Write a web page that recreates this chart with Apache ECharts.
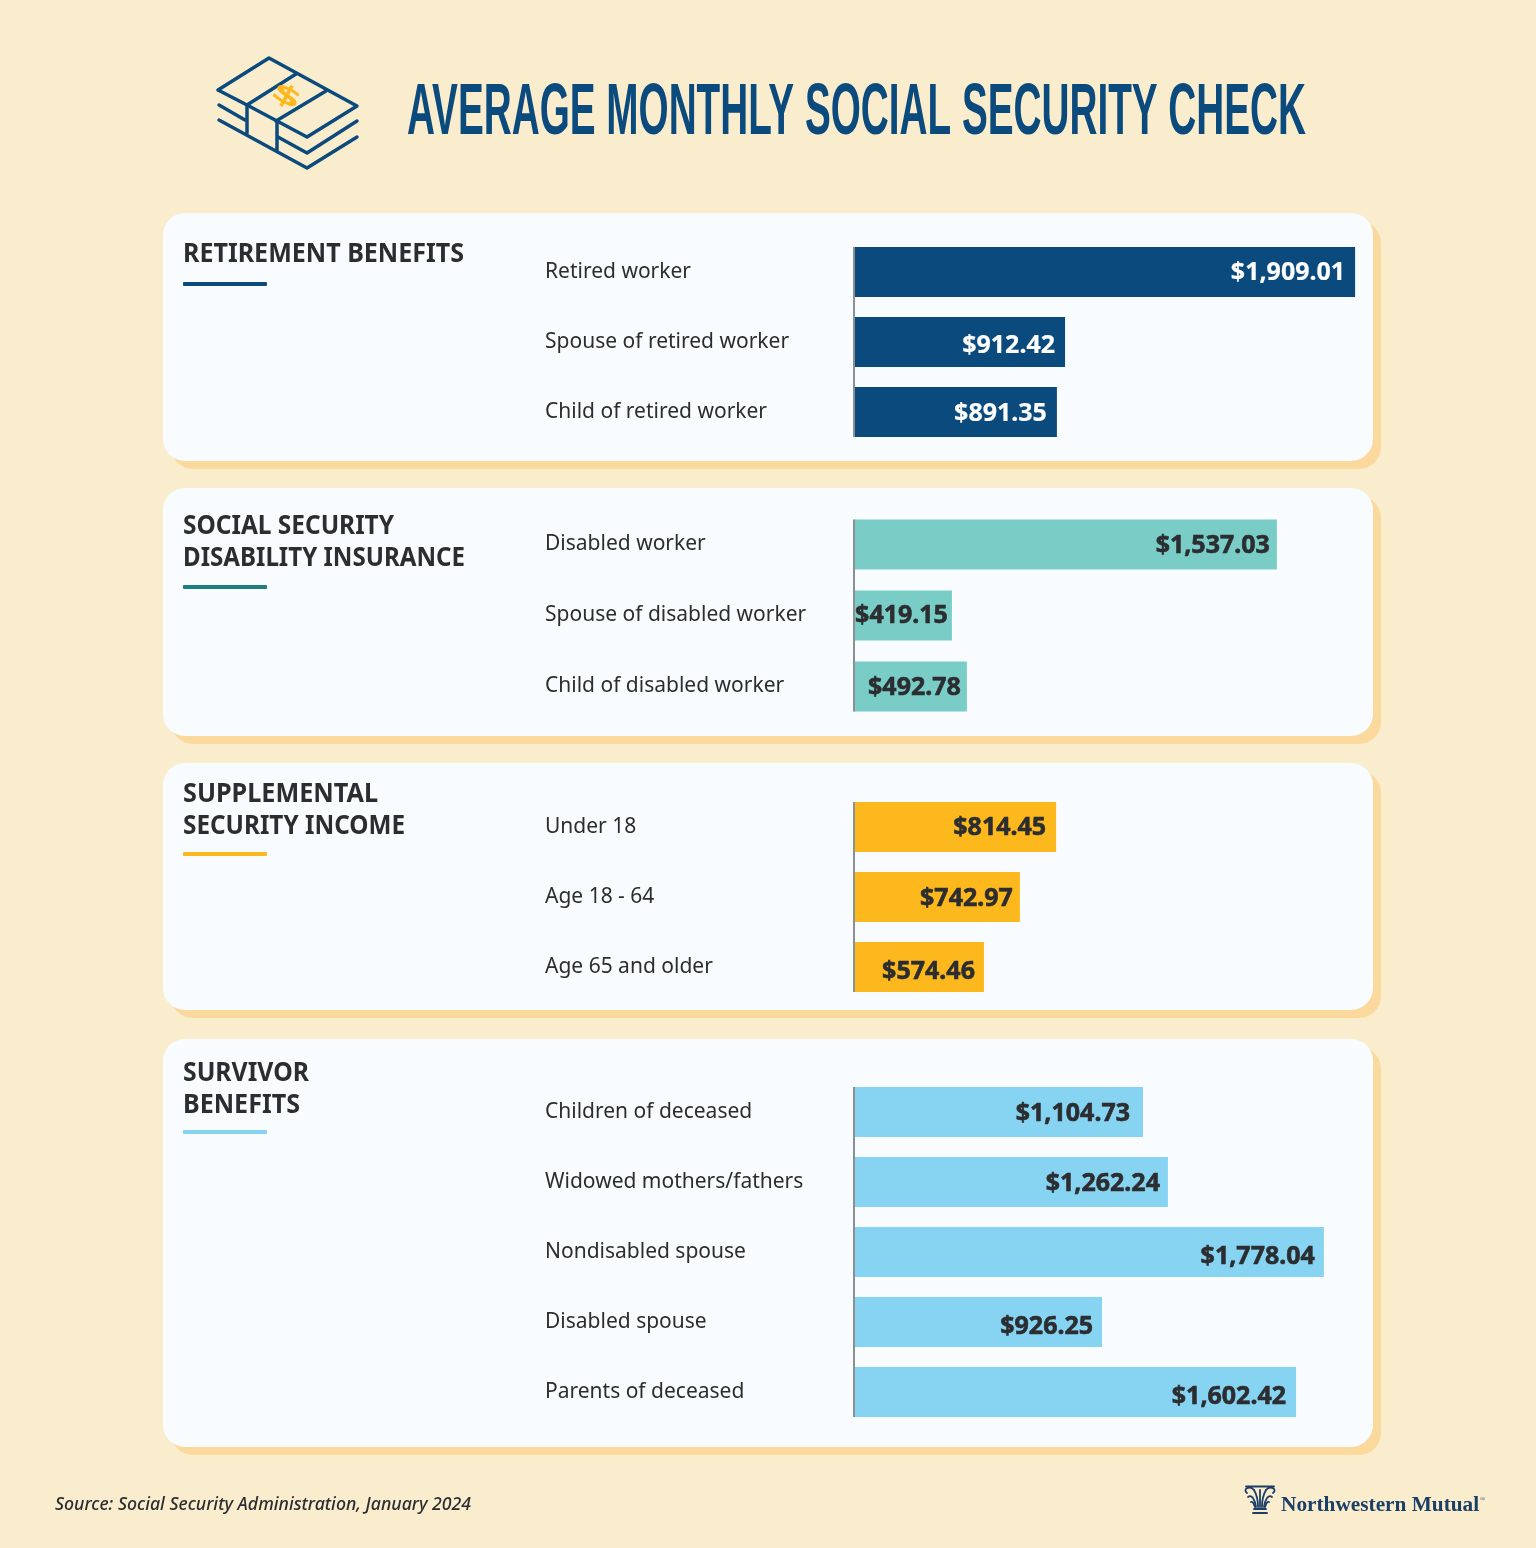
<!DOCTYPE html>
<html><head><meta charset="utf-8">
<style>html,body{margin:0;padding:0;background:#faedcd}#c{width:1536px;height:1548px}</style>
<script src="https://cdn.jsdelivr.net/npm/echarts@6/dist/echarts.min.js"></script>
</head><body><div id="c"></div>
<script>
// Printed dollar amounts, as labelled on the picture
const retirementCategories = ['Retired worker','Spouse of retired worker','Child of retired worker'];
const retirementPrinted = [1909.01,912.42,891.35];
const disabilityCategories = ['Disabled worker','Spouse of disabled worker','Child of disabled worker'];
const disabilityPrinted = [1537.03,419.15,492.78];
const ssiCategories = ['Under 18','Age 18 - 64','Age 65 and older'];
const ssiPrinted = [814.45,742.97,574.46];
const survivorCategories = ['Children of deceased','Widowed mothers/fathers','Nondisabled spouse','Disabled spouse','Parents of deceased'];
const survivorPrinted = [1104.73,1262.24,1778.04,926.25,1602.42];
// The bars in the reference are not drawn to scale with their labels, so their
// lengths are read separately, in dollars on the scale set by the longest bar.
const retirementDrawn = [1909,804,773];
const disabilityDrawn = [1611,373,430];
const ssiDrawn = [770,632,495];
const survivorDrawn = [1101,1196,1790,945,1684];

const fmt = v => '$' + v.toLocaleString('en-US',{minimumFractionDigits:2,maximumFractionDigits:2});
const FONT = '"Noto Sans", sans-serif';
const INK = '#2b2d30';
const NAVY = '#0b4a7d';

// layout only: per-panel geometry and the hand placement of the value labels
const panels = [
 {cats:retirementCategories,printed:retirementPrinted,drawn:retirementDrawn,color:NAVY,labelColor:'#ffffff',accent:NAVY,
  card:[213,248],top:237,band:70,head:[['RETIREMENT BENEFITS',281]],headY:255,rule:284,
  inset:[10,10,10],dy:[1,4,2]},
 {cats:disabilityCategories,printed:disabilityPrinted,drawn:disabilityDrawn,color:'#79cdc6',labelColor:INK,accent:'#1f7f80',
  card:[488,248],top:509,band:71,head:[['SOCIAL SECURITY',211],['DISABILITY INSURANCE',282]],headY:527,rule:587,
  inset:[7,4,6],dy:[1,0,1]},
 {cats:ssiCategories,printed:ssiPrinted,drawn:ssiDrawn,color:'#fdb81e',labelColor:INK,accent:'#fdb81e',
  card:[763,247],top:792,band:70,head:[['SUPPLEMENTAL',195],['SECURITY INCOME',222]],headY:795,rule:854,
  inset:[10,7,9],dy:[1,2,5]},
 {cats:survivorCategories,printed:survivorPrinted,drawn:survivorDrawn,color:'#87d3f2',labelColor:INK,accent:'#87d3f2',
  card:[1039,408],top:1077,band:70,head:[['SURVIVOR',126],['BENEFITS',117]],headY:1074,rule:1132,
  inset:[13,8,9,9,10],dy:[2,2,5,5,5]}
];

const LEFT = 854, PX_PER_DOLLAR = 0.2625, AXIS_MAX = 2000;
const grid=[],xAxis=[],yAxis=[],series=[],g=[];
const mc=document.createElement('canvas').getContext('2d');
const fit=(text,font,w)=>{mc.font=font;return w/mc.measureText(text).width;};

panels.forEach(p=>{
  g.push({type:'rect',z:-10,shape:{x:171,y:p.card[0]+8,width:1210,height:p.card[1],r:22},style:{fill:'#fbd89b'}});
  g.push({type:'rect',z:-9,shape:{x:163,y:p.card[0],width:1210,height:p.card[1],r:22},style:{fill:'#f8fcff'}});
});

panels.forEach((p,i)=>{
  const h=p.band*p.cats.length;
  grid.push({left:LEFT,top:p.top,width:AXIS_MAX*PX_PER_DOLLAR,height:h});
  xAxis.push({gridIndex:i,type:'value',min:0,max:AXIS_MAX,show:false});
  yAxis.push({gridIndex:i,type:'category',inverse:true,data:p.cats,
    axisLine:{show:false},axisTick:{show:false},splitLine:{show:false},
    axisLabel:{align:'left',margin:309,color:INK,fontFamily:FONT,fontSize:21,lineHeight:26,padding:[2,0,0,0]}});
  const dark=p.labelColor===INK;
  series.push({type:'bar',xAxisIndex:i,yAxisIndex:i,barWidth:50,silent:true,
    data:p.drawn.map((v,k)=>({value:v,label:{formatter:fmt(p.printed[k]),distance:p.inset[k],offset:[0,p.dy[k]]}})),
    itemStyle:{color:p.color},
    label:{show:true,position:'insideRight',color:p.labelColor,fontFamily:FONT,fontWeight:700,fontSize:25,
      textBorderColor:p.labelColor,textBorderWidth:dark?0.6:0.2}});
  g.push({type:'rect',z:5,shape:{x:853,y:p.top+(p.band-50)/2,width:2,height:h-(p.band-50)},style:{fill:'#8b9094'}});
  p.head.forEach(([t,w],k)=>{
    const f='700 26px '+FONT;
    g.push({type:'text',z:5,x:183,y:p.headY+k*31.5,scaleX:fit(t,f,w),style:{text:t,fill:INK,font:f,textVerticalAlign:'middle'}});
  });
  g.push({type:'rect',z:5,shape:{x:183,y:p.rule-2,width:84,height:4,r:1},style:{fill:p.accent}});
});

// title squeezed to the condensed width of the original lettering
const TITLE='AVERAGE MONTHLY SOCIAL SECURITY CHECK', TITLE_FONT='700 73px "Liberation Sans", sans-serif';
g.push({type:'text',x:407,y:114,scaleX:fit(TITLE,TITLE_FONT,899),style:{text:TITLE,fill:NAVY,font:TITLE_FONT,textVerticalAlign:'middle'}});

// money icon
const iconLine={stroke:NAVY,lineWidth:3.5,fill:null,lineJoin:'round',lineCap:'round'};
[
 [[218,90],[269,58],[357,106],[307,137],[247,105],[218,90]],
 [[296,74],[247,105]],[[326,91],[276,121]],
 [[247,105],[247,133]],[[277,121],[277,150]],
 [[219,105],[245,120]],
 [[219,120],[307,168],[357,137]],
 [[278,137],[307,153],[357,121]]
].forEach(pts=>g.push({type:'polyline',shape:{points:pts},style:iconLine}));
g.push({type:'text',x:286,y:97,rotation:-0.5,scaleX:1.5,scaleY:0.85,style:{text:'$',fill:'#fdb81e',font:'900 30px "DejaVu Sans", sans-serif',textAlign:'center',textVerticalAlign:'middle'}});

// source + logo
g.push({type:'text',x:55,y:1505,style:{text:'Source: Social Security Administration, January 2024',fill:INK,font:'italic 500 17.7px '+FONT,textVerticalAlign:'middle'}});
g.push({type:'text',x:1281,y:1505,style:{text:'Northwestern Mutual',fill:'#1c3f68',font:'700 21.3px "Liberation Serif", serif',textVerticalAlign:'middle'}});
g.push({type:'text',x:1480,y:1499,style:{text:'®',fill:'#1c3f68',font:'7px "Liberation Serif", serif',textVerticalAlign:'middle'}});
const logo={stroke:'#1c3f68',lineWidth:1.8,fill:null,lineCap:'round'};
const bez=(x1,y1,cpx1,cpy1,cpx2,cpy2,x2,y2)=>g.push({type:'bezierCurve',shape:{x1,y1,cpx1,cpy1,cpx2,cpy2,x2,y2},style:logo});
const seg=(x1,y1,x2,y2)=>g.push({type:'line',shape:{x1,y1,x2,y2},style:logo});
seg(1246,1486.5,1274,1486.5);
bez(1247,1493,1242,1489,1250,1485,1254,1490);
bez(1273,1493,1278,1489,1270,1485,1266,1490);
bez(1254,1490,1257,1495,1258,1500,1258,1507);
bez(1266,1490,1263,1495,1262,1500,1262,1507);
bez(1248,1497,1252,1494,1255,1500,1256,1507);
bez(1272,1497,1268,1494,1265,1500,1264,1507);
bez(1251,1502,1253,1501,1254,1504,1255,1507);
bez(1269,1502,1267,1501,1266,1504,1265,1507);
seg(1260,1490,1260,1507);
seg(1254,1509,1266,1509);
seg(1253,1513,1267,1513);

const chart=echarts.init(document.getElementById('c'),null,{renderer:'canvas'});
chart.setOption({animation:false,backgroundColor:'#faedcd',grid,xAxis,yAxis,series,graphic:{elements:g}});
</script></body></html>
